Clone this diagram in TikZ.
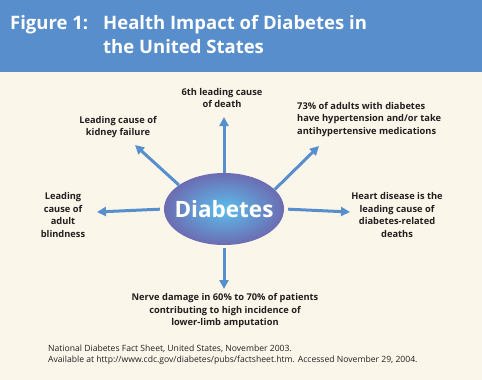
\documentclass[tikz,border=0pt]{standalone}
\usepackage{fontspec}
\setmainfont{Open Sans}
\usetikzlibrary{
  positioning,
  arrows.meta,
  shapes.geometric
}
\definecolor{headblue}{RGB}{88,142,204}
\definecolor{arrowblue}{RGB}{86,142,206}
\definecolor{paper}{RGB}{250,246,233}
\definecolor{inkgray}{RGB}{35,31,32}
\definecolor{diabin}{RGB}{92,190,236}
\definecolor{diabout}{RGB}{108,108,178}
\tikzstyle{arrowline}=[-{Triangle[length=9pt, width=9pt]}, line width=3pt, arrowblue]
\tikzstyle{fact}=[align=center, font=\bfseries\fontsize{9.3}{12.5}\selectfont, text=inkgray, inner sep=0pt]
\tikzstyle{diabnode}=[ellipse, minimum width=120pt, minimum height=72pt, inner sep=0pt,
  inner color=diabin, outer color=diabout, text=white, font=\bfseries\fontsize{22.5}{23}\selectfont]

\begin{document}
\begin{tikzpicture}[x=1pt, y=-1pt]
        % 背景と見出し帯
        \fill[paper] (0,0) rectangle (482,380);
        \useasboundingbox (0,0) rectangle (482,380);
        \fill[headblue] (0,0) rectangle (482,72);

        % 見出し
        \node (figlabel) at (10,29) [anchor=base west, inner sep=0pt, text=white, font=\bfseries\fontsize{18.5}{24}\selectfont]{Figure 1:};
        \node (title) at (103,53) [anchor=base west, align=left, inner sep=0pt, text=white, font=\bfseries\fontsize{18.5}{24}\selectfont]{Health Impact of Diabetes in\\the United States};

        % 中央の楕円
        \node[diabnode] (diab) at (224,209) {\makebox[0pt]{Diabetes}};

        % 周りの説明
        \node[fact] (death) at (222,98) {6th leading cause\\of death};
        \node[fact] (kidney) at (118,127) {Leading cause of\\kidney failure};
        \node[fact] (blind) at (63,215) {Leading\\cause of\\adult\\blindness};
        \node[fact, align=left, anchor=west] (hyper) at (297,119.5) {73\% of adults with diabetes\\have hypertension and/or take\\antihypertensive medications};
        \node[fact] (heart) at (397,215) {Heart disease is the\\leading cause of\\diabetes-related\\deaths};
        \node[fact] (nerve) at (225,311) {Nerve damage in 60\% to 70\% of patients\\contributing to high incidence of\\lower-limb amputation};

        % 矢印の先端
        \coordinate (deathtip) at (224,117);
        \coordinate (kidneytip) at (135,145);
        \coordinate (blindtip) at (97,212);
        \coordinate (hypertip) at (319,146);
        \coordinate (hearttip) at (350,212);
        \coordinate (nervetip) at (224,289);

        % 矢印
        \draw[arrowline] (diab.north) -- (deathtip);
        \draw[arrowline] (diab.152) -- (kidneytip);
        \draw[arrowline, shorten <=4pt] (diab.west) -- (blindtip);
        \draw[arrowline] (diab.21) -- (hypertip);
        \draw[arrowline, shorten <=4pt] (diab.east) -- (hearttip);
        \draw[arrowline, shorten <=3pt] (diab.south) -- (nervetip);

        % 出典
        \node (source) at (48,354.5) [anchor=west, align=left, inner sep=0pt, text=inkgray, font=\fontsize{8.6}{11}\selectfont]{National Diabetes Fact Sheet, United States, November 2003.\\Available at http://www.cdc.gov/diabetes/pubs/factsheet.htm. Accessed November 29, 2004.};
\end{tikzpicture}
\end{document}
